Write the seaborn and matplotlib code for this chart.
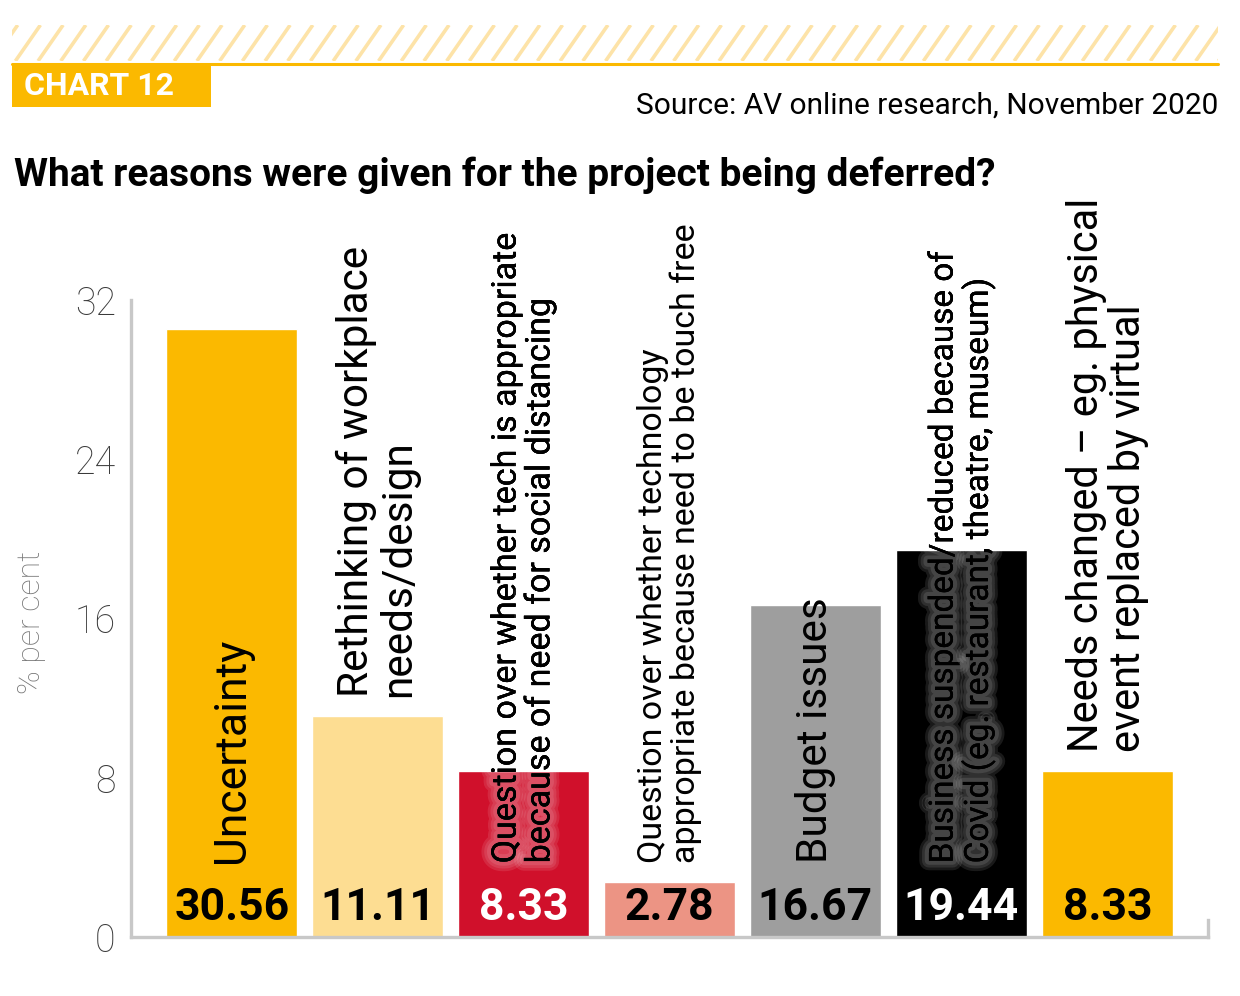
import matplotlib.pyplot as plt
import matplotlib.patheffects as pe
from matplotlib.patches import Rectangle
import numpy as np
import pandas as pd
import seaborn as sns

# data
categories = [
    "Uncertainty",
    "Rethinking of workplace\nneeds/design",
    "Question over whether tech is appropriate\nbecause of need for social distancing",
    "Question over whether technology\nappropriate because need to be touch free",
    "Budget issues",
    "Business suspended/reduced because of\nCovid (eg. restaurant, theatre, museum)",
    "Needs changed \u2013 eg. physical\nevent replaced by virtual",
]
values = [30.56, 11.11, 8.33, 2.78, 16.67, 19.44, 8.33]
value_labels = ["30.56", "11.11", "8.33", "2.78", "16.67", "19.44", "8.33"]
colors = ["#FBB900", "#FDDD92", "#D0102B", "#EC9484", "#9E9E9E", "#000000", "#FBB900"]
y_ticks = [0, 8, 16, 24, 32]

# label styling
label_size = [32, 30.5, 24.5, 24.5, 30.5, 24, 30]
label_inside = [True, False, True, True, True, True, False]
value_color = ["black", "black", "white", "black", "black", "white", "black"]

sns.set_style("white")
plt.rcParams["font.family"] = ["Roboto", "DejaVu Sans"]

df = pd.DataFrame({"cat": categories, "val": values})

fig = plt.figure(figsize=(12.4, 9.96), dpi=100)
ax = fig.add_axes([131 / 1240, 1 - 937 / 996, (1208 - 131) / 1240, (937 - 300) / 996])

sns.barplot(data=df, x="cat", y="val", hue="cat", palette=colors, width=0.9,
            saturation=1, legend=False, ax=ax)

ax.set_xlim(-0.69, 6.69)
ax.set_ylim(0, 32)
ax.set_xticks([])
ax.set_yticks(y_ticks)
ax.set_xlabel("")
ax.set_ylabel("")
grey = "#C8C8C8"
for s in ["left", "bottom", "right"]:
    ax.spines[s].set_color(grey)
    ax.spines[s].set_linewidth(2.4)
ax.spines["top"].set_visible(False)
ax.spines["right"].set_bounds(0, 0.85)
ax.tick_params(axis="y", direction="in", length=19, width=2.2, color=grey,
               pad=11, labelsize=27, labelcolor="#3a3a3a")
for t in ax.get_yticklabels():
    t.set_fontweight("light")

# soft glow for text sitting on dark bars
glow = [pe.withStroke(linewidth=w, foreground="white", alpha=0.1) for w in (14, 10, 6)]
glow.append(pe.Normal())

# values and category labels
for i, (v, lab) in enumerate(zip(values, value_labels)):
    ax.text(i, 1.45, lab, ha="center", va="center", fontsize=32,
            fontweight="bold", color=value_color[i])
    y0 = 3.7 if label_inside[i] else v + 0.95
    fx = None
    if colors[i] in ("#000000", "#D0102B") and label_inside[i]:
        fx = glow
    ax.text(i, y0, categories[i], rotation=90, ha="center", va="bottom",
            multialignment="left", fontsize=label_size[i], color="black",
            linespacing=1.05, path_effects=fx)

fig.text(32 / 1240, 1 - 622 / 996, "% per cent", rotation=90, ha="center",
         va="center", fontsize=23, color="#777777", fontweight="light")

# header
hx = fig.add_axes([0, 0, 1, 1], zorder=-1)
hx.set_xlim(0, 1240)
hx.set_ylim(996, 0)
hx.axis("off")
clip = Rectangle((12, 25), 1206, 36, transform=hx.transData, facecolor="none")
for x0 in np.arange(-30, 1230, 22.7):
    ln, = hx.plot([x0, x0 + 25], [61, 25], color="#FDE3A8", lw=2.6,
                  solid_capstyle="butt")
    ln.set_clip_path(clip)
hx.plot([12, 1218], [64, 64], color="#FBB900", lw=2.2)
hx.add_patch(Rectangle((12, 64), 199, 43, facecolor="#FBB900", edgecolor="none"))
hx.text(24, 86, "CHART 12", ha="left", va="center", fontsize=23,
        fontweight="bold", color="white")
hx.text(1218, 106, "Source: AV online research, November 2020", ha="right",
        va="center", fontsize=21.5, color="black")
hx.text(14, 175, "What reasons were given for the project being deferred?",
        ha="left", va="center", fontsize=28, fontweight="bold", color="black")

fig.savefig("out.png", dpi=100)
